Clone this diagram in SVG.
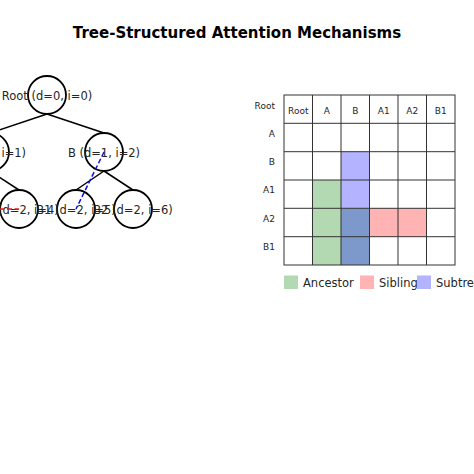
<svg xmlns="http://www.w3.org/2000/svg" width="474" height="474" viewBox="0 0 474 474">
<style>
text{font-family:"DejaVu Sans","Liberation Sans",sans-serif;fill:#262626}
.title{font-size:15px;font-weight:bold;fill:#000;text-anchor:middle}
.lbl{font-size:11.5px;text-anchor:middle}
.cell{font-size:9px;text-anchor:middle}
.rl{font-size:9px;text-anchor:end}
.leg{font-size:11.5px}
.edge{stroke:#000;stroke-width:1.5;fill:none}
.node{fill:#fff;stroke:#000;stroke-width:1.8}
.grid{fill:none;stroke:#333;stroke-width:1}
</style>
<rect width="474" height="474" fill="#fff"/>
<text class="title" x="237" y="38">Tree-Structured Attention Mechanisms</text>
<g id="connectors">
<line class="edge" x1="47" y1="114" x2="-10" y2="133"/>
<line class="edge" x1="47" y1="114" x2="104" y2="133"/>
<line class="edge" x1="-10" y1="171" x2="-38" y2="190"/>
<line class="edge" x1="-10" y1="171" x2="19" y2="190"/>
<line class="edge" x1="104" y1="171" x2="76" y2="190"/>
<line class="edge" x1="104" y1="171" x2="133" y2="190"/>
</g>
<g id="node-root"><circle class="node" cx="47" cy="95" r="19"/></g>
<g id="node-A"><circle class="node" cx="-10" cy="152" r="19"/></g>
<g id="node-B"><circle class="node" cx="104" cy="152" r="19"/></g>
<g id="node-A1"><circle class="node" cx="-38" cy="209" r="19"/></g>
<g id="node-A2"><circle class="node" cx="19" cy="209" r="19"/></g>
<g id="node-B1"><circle class="node" cx="76" cy="209" r="19"/></g>
<g id="node-B2"><circle class="node" cx="133" cy="209" r="19"/></g>
<g id="tree-labels">
<text class="lbl" x="47" y="99.5">Root (d=0, i=0)</text>
<text class="lbl" x="-10" y="156.5">A (d=1, i=1)</text>
<text class="lbl" x="104" y="156.5">B (d=1, i=2)</text>
<text class="lbl" x="-38" y="213.5">A1 (d=2, i=3)</text>
<text class="lbl" x="19" y="213.5">A2 (d=2, i=4)</text>
<text class="lbl" x="76" y="213.5">B1 (d=2, i=5)</text>
<text class="lbl" x="133" y="213.5">B2 (d=2, i=6)</text>
</g>
<g id="attention-links">
<line x1="-38" y1="209" x2="19" y2="209" stroke="#e31a1c" stroke-width="1.5" stroke-dasharray="5,2.5"/>
<line x1="104" y1="152" x2="76" y2="209" stroke="#1010e0" stroke-width="1.5" stroke-dasharray="5,2.5"/>
</g>
<g id="matrix">
<rect x="312.5" y="180" width="28.5" height="85" fill="#b3d9b3"/>
<rect x="341" y="151.7" width="28.5" height="56.6" fill="#b3b3ff"/>
<rect x="341" y="208.3" width="28.5" height="56.7" fill="#7d98ca"/>
<rect x="369.5" y="208.3" width="57" height="28.4" fill="#ffb3b3"/>
<g class="grid">
<rect x="284" y="95" width="171" height="170"/>
<line x1="312.5" y1="95" x2="312.5" y2="265"/>
<line x1="341" y1="95" x2="341" y2="265"/>
<line x1="369.5" y1="95" x2="369.5" y2="265"/>
<line x1="398" y1="95" x2="398" y2="265"/>
<line x1="426.5" y1="95" x2="426.5" y2="265"/>
<line x1="284" y1="123.3" x2="455" y2="123.3"/>
<line x1="284" y1="151.7" x2="455" y2="151.7"/>
<line x1="284" y1="180" x2="455" y2="180"/>
<line x1="284" y1="208.3" x2="455" y2="208.3"/>
<line x1="284" y1="236.7" x2="455" y2="236.7"/>
</g>
<text class="cell" x="298.25" y="114">Root</text>
<text class="cell" x="326.75" y="114">A</text>
<text class="cell" x="355.25" y="114">B</text>
<text class="cell" x="383.75" y="114">A1</text>
<text class="cell" x="412.25" y="114">A2</text>
<text class="cell" x="440.75" y="114">B1</text>
<text class="rl" x="275" y="109">Root</text>
<text class="rl" x="275" y="136.6">A</text>
<text class="rl" x="275" y="165">B</text>
<text class="rl" x="275" y="193.3">A1</text>
<text class="rl" x="275" y="221.6">A2</text>
<text class="rl" x="275" y="250">B1</text>
</g>
<g id="legend">
<rect x="284" y="275.5" width="14" height="13.5" fill="#b3d9b3"/>
<text class="leg" x="303" y="286.5">Ancestor</text>
<rect x="360" y="275.5" width="14" height="13.5" fill="#ffb3b3"/>
<text class="leg" x="379" y="286.5">Sibling</text>
<rect x="417" y="275.5" width="14" height="13.5" fill="#b3b3ff"/>
<text class="leg" x="436" y="286.5">Subtree</text>
</g>
</svg>
